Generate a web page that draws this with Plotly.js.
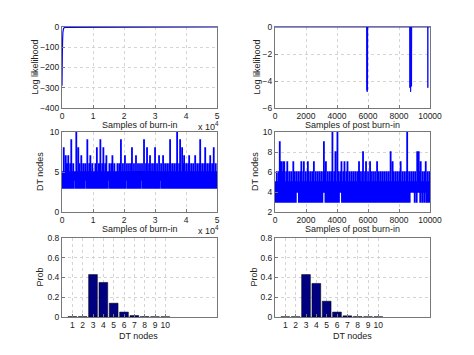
<!DOCTYPE html>
<html>
<head>
<meta charset="utf-8">
<script src="https://cdn.plot.ly/plotly-3.0.1.min.js"></script>
<style>html,body{margin:0;padding:0;background:#fff;}#chart{width:474px;height:355px;}</style>
</head>
<body>
<div id="chart"></div>
<script>
// ---- Data ----
// Log likelihood during burn-in (x = sample index, y = log likelihood)
const burnLikX = [0, 60, 120, 200, 300, 500, 800, 50000];
const burnLikY = [-290, -200, -120, -60, -25, -8, -2, 0];

// Log likelihood after burn-in
const postLikX = [0, 5920, 5930, 5940, 5950, 5960, 5970, 5980, 8690, 8700, 8710, 8740, 8750, 8760, 8800, 8810, 8820, 9850, 9860, 9870, 10000];
const postLikY = [0, 0, -4.7, 0, -4.8, 0, -4.6, 0, 0, -4.5, 0, 0, -4.8, 0, 0, -4.4, 0, 0, -4.5, 0, 0];

// DT nodes trace during burn-in (equally spaced over 0..50000)
const burnNodes = [
  3,5,3,8,3,5,3,7,5,3,6,3,7,3,5,3,6,3,9,3,
  5,3,6,3,5,4,5,3,10,3,5,3,8,3,6,3,5,3,7,3,
  5,3,6,3,5,3,6,4,5,3,9,3,5,3,6,3,7,3,5,3,
  6,3,5,3,5,3,6,3,5,8,3,5,3,6,3,5,9,3,5,3,
  6,3,8,3,5,3,6,3,7,3,5,3,5,4,6,3,5,3,6,3,
  7,3,5,3,6,3,5,3,5,3,6,3,5,3,6,3,5,9,3,5,
  3,6,3,5,3,7,3,5,4,6,3,5,3,6,3,5,3,6,3,8,
  3,5,3,6,3,5,3,7,3,5,3,6,3,5,3,6,3,5,4,6,
  3,5,3,9,3,5,3,6,3,8,3,5,3,6,3,7,3,5,3,6,
  3,5,3,6,3,8,3,5,3,6,3,5,3,7,3,5,4,6,3,5,
  3,7,3,5,3,6,3,5,3,6,3,5,3,6,3,9,3,5,3,6,
  3,5,3,6,3,5,3,6,3,10,3,5,3,6,3,9,3,5,3,8,
  3,6,3,7,3,5,3,6,3,5,3,6,3,7,3,5,3,6,3,5,
  3,6,3,5,3,7,3,5,3,6,3,5,3,6,3,9,3,5,3,6,
  3,5,3,6,3,8,3,5,3,6,3,5,3,6,3,7,3,5,3,6,
  3,5,8,3,5,3,6,3,5,3
];

// DT nodes trace after burn-in (equally spaced over 0..10000)
const postNodes = [
  3,5,3,6,3,5,3,6,3,9,3,5,7,3,6,3,7,3,7,3,
  5,3,6,3,7,3,5,3,6,3,5,3,6,3,5,3,7,3,6,3,
  5,3,6,4,5,4,6,3,5,3,6,3,7,3,5,3,6,7,3,5,
  3,6,3,5,3,7,3,6,3,5,3,6,3,5,3,6,3,7,3,5,
  3,6,3,5,3,6,3,5,3,6,3,5,3,6,3,5,4,9,4,6,
  3,7,3,5,3,6,3,5,3,6,3,5,3,6,10,3,5,3,6,3,
  8,3,5,3,10,3,6,3,5,4,6,4,7,3,5,3,6,3,7,3,
  5,3,6,3,7,3,5,3,6,3,5,3,6,3,5,3,6,3,5,3,
  6,3,5,3,6,3,5,7,3,6,3,5,3,6,3,8,3,5,3,6,
  3,7,3,5,3,6,3,5,3,7,3,6,3,5,3,6,3,5,3,6,
  3,5,3,7,3,6,3,5,3,6,3,5,3,6,3,5,3,6,3,5,
  3,6,3,5,3,6,3,5,3,6,8,3,5,3,7,3,6,3,5,3,
  6,3,5,3,6,3,5,3,6,3,7,3,5,3,6,3,5,3,6,3,
  5,3,6,10,3,5,3,6,3,5,4,6,4,5,4,6,4,5,3,6,
  4,5,3,8,4,5,8,4,6,3,7,4,5,3,6,4,5,3,6,4,
  7,3,5,3,6,3,5,3,6,3
];

// Histograms of DT nodes
const nodeCats = [1, 2, 3, 4, 5, 6, 7, 8, 9, 10];
const burnProb = [0.003, 0.003, 0.43, 0.35, 0.14, 0.05, 0.015, 0.003, 0.002, 0.002];
const postProb = [0.002, 0.002, 0.43, 0.34, 0.16, 0.05, 0.012, 0.003, 0.002, 0.002];

// Tick labels
const burnTickVals = [0, 10000, 20000, 30000, 40000, 50000];
const burnTickText = ['0', '1', '2', '3', '4', '5'];
const postTickVals = [0, 2000, 4000, 6000, 8000, 10000];
const postTickText = ['0', '2000', '4000', '6000', '8000', '10000'];

// ---- Build ----
function idx(n, maxX) { const a = []; for (let i = 0; i < n; i++) a.push(i * maxX / (n - 1)); return a; }

const W = 474, H = 355;
const fx = p => p / W;
const fy = p => 1 - p / H;

const lineStyle = {color: '#0000ff', width: 1.3, shape: 'hv', simplify: false};
const traces = [
  {x: burnLikX, y: burnLikY, type: 'scatter', mode: 'lines', line: {color: '#0000ff', width: 1.2, simplify: false}, xaxis: 'x', yaxis: 'y'},
  {x: postLikX, y: postLikY, type: 'scatter', mode: 'lines', line: {color: '#0000ff', width: 0.9, simplify: false}, xaxis: 'x2', yaxis: 'y2'},
  {x: idx(burnNodes.length, 50000), y: burnNodes, type: 'scatter', mode: 'lines', line: lineStyle, xaxis: 'x3', yaxis: 'y3'},
  {x: idx(postNodes.length, 10000), y: postNodes, type: 'scatter', mode: 'lines', line: lineStyle, xaxis: 'x4', yaxis: 'y4'},
  {x: nodeCats, y: burnProb, type: 'bar', width: 0.85, marker: {color: '#000080', line: {color: '#000000', width: 0.5}}, xaxis: 'x5', yaxis: 'y5'},
  {x: nodeCats, y: postProb, type: 'bar', width: 0.85, marker: {color: '#000080', line: {color: '#000000', width: 0.5}}, xaxis: 'x6', yaxis: 'y6'}
];

const FONT = 'Liberation Sans, Arial, sans-serif';
const base = {
  showline: true, mirror: true, linecolor: '#777', linewidth: 1,
  ticks: 'inside', ticklen: 3, tickcolor: '#777', tickwidth: 1,
  showgrid: true, gridcolor: '#d4d4d4', griddash: 'dot', gridwidth: 1,
  zeroline: false, tickfont: {family: FONT, size: 8.5, color: '#222'},
  fixedrange: true
};
const ax = o => Object.assign({}, base, o);

const colL = [fx(62), fx(217)], colR = [fx(275), fx(430)];
const row1 = [fy(108), fy(27)], row2 = [fy(212), fy(132)], row3 = [fy(317), fy(238)];

const layout = {
  width: W, height: H,
  margin: {l: 0, r: 0, t: 0, b: 0},
  paper_bgcolor: '#ffffff', plot_bgcolor: '#ffffff',
  showlegend: false,
  font: {family: FONT, size: 8.5, color: '#222'},
  xaxis: ax({domain: colL, anchor: 'y', range: [0, 50000], tickvals: burnTickVals, ticktext: burnTickText}),
  yaxis: ax({domain: row1, anchor: 'x', range: [-400, 0], dtick: 100}),
  xaxis2: ax({domain: colR, anchor: 'y2', range: [0, 10000], tickvals: postTickVals, ticktext: postTickText}),
  yaxis2: ax({domain: row1, anchor: 'x2', range: [-6, 0], dtick: 2}),
  xaxis3: ax({domain: colL, anchor: 'y3', range: [0, 50000], tickvals: burnTickVals, ticktext: burnTickText}),
  yaxis3: ax({domain: row2, anchor: 'x3', range: [0, 10], dtick: 5}),
  xaxis4: ax({domain: colR, anchor: 'y4', range: [0, 10000], tickvals: postTickVals, ticktext: postTickText}),
  yaxis4: ax({domain: row2, anchor: 'x4', range: [2, 10], dtick: 2}),
  xaxis5: ax({domain: colL, anchor: 'y5', range: [0, 15], tickvals: nodeCats}),
  yaxis5: ax({domain: row3, anchor: 'x5', range: [0, 0.8], dtick: 0.2}),
  xaxis6: ax({domain: colR, anchor: 'y6', range: [0, 15], tickvals: nodeCats}),
  yaxis6: ax({domain: row3, anchor: 'x6', range: [0, 0.8], dtick: 0.2}),
  annotations: []
};

function label(text, x, y, rot) {
  layout.annotations.push({
    text: text, xref: 'paper', yref: 'paper', x: fx(x), y: fy(y),
    xanchor: 'center', yanchor: 'middle', showarrow: false, textangle: rot || 0,
    font: {family: FONT, size: 9, color: '#222'}
  });
}
label('Samples of burn-in', 139.5, 125);
label('x 10<sup>4</sup>', 208, 126);
label('Samples of post burn-in', 352.5, 125);
label('Log likelihood', 35, 67.5, -90);
label('Log likelihood', 257, 67.5, -90);

label('Samples of burn-in', 139.5, 229);
label('x 10<sup>4</sup>', 208, 230);
label('Samples of post burn-in', 352.5, 229);
label('DT nodes', 40, 172, -90);
label('DT nodes', 255, 172, -90);

label('DT nodes', 138, 336);
label('DT nodes', 352, 336);
label('Prob', 39, 277.5, -90);
label('Prob', 253, 277.5, -90);

Plotly.newPlot('chart', traces, layout, {staticPlot: true, displayModeBar: false});
</script>
</body>
</html>
